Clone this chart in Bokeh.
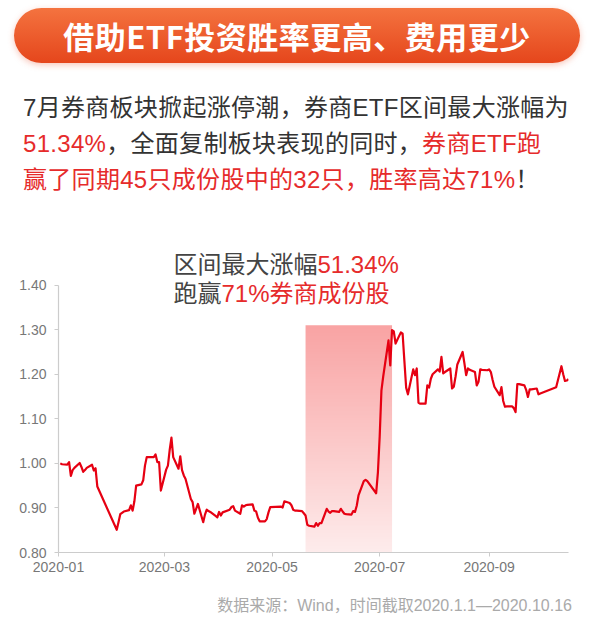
from datetime import datetime
import numpy as np
from bokeh.plotting import figure
from bokeh.models import (Range1d, FixedTicker, NumeralTickFormatter,
                          DatetimeTickFormatter, Label, Div, ColumnDataSource)
from bokeh.layouts import column
from bokeh.embed import file_html
from bokeh.resources import INLINE

# ---------------- data ----------------
dates = [
    "2020-01-02", "2020-01-03", "2020-01-06", "2020-01-07", "2020-01-08", "2020-01-09", "2020-01-10",
    "2020-01-13", "2020-01-14", "2020-01-15", "2020-01-16", "2020-01-17", "2020-01-20", "2020-01-21",
    "2020-01-22", "2020-01-23",
    "2020-02-03", "2020-02-04", "2020-02-05", "2020-02-06", "2020-02-07", "2020-02-10", "2020-02-11",
    "2020-02-12", "2020-02-13", "2020-02-14", "2020-02-17", "2020-02-18", "2020-02-19", "2020-02-20",
    "2020-02-21", "2020-02-24", "2020-02-25", "2020-02-26", "2020-02-27", "2020-02-28",
    "2020-03-02", "2020-03-03", "2020-03-04", "2020-03-05", "2020-03-06", "2020-03-09", "2020-03-10",
    "2020-03-11", "2020-03-12", "2020-03-13", "2020-03-16", "2020-03-17", "2020-03-18", "2020-03-19",
    "2020-03-20", "2020-03-23", "2020-03-24", "2020-03-25", "2020-03-26", "2020-03-27", "2020-03-30",
    "2020-03-31",
    "2020-04-01", "2020-04-02", "2020-04-03", "2020-04-07", "2020-04-08", "2020-04-09", "2020-04-10",
    "2020-04-13", "2020-04-14", "2020-04-15", "2020-04-16", "2020-04-17", "2020-04-20", "2020-04-21",
    "2020-04-22", "2020-04-23", "2020-04-24", "2020-04-27", "2020-04-28", "2020-04-29", "2020-04-30",
    "2020-05-06", "2020-05-07", "2020-05-08", "2020-05-11", "2020-05-12", "2020-05-13", "2020-05-14",
    "2020-05-15", "2020-05-18", "2020-05-19", "2020-05-20", "2020-05-21", "2020-05-22", "2020-05-25",
    "2020-05-26", "2020-05-27", "2020-05-28", "2020-05-29",
    "2020-06-01", "2020-06-02", "2020-06-03", "2020-06-04", "2020-06-05", "2020-06-08", "2020-06-09",
    "2020-06-10", "2020-06-11", "2020-06-12", "2020-06-15", "2020-06-16", "2020-06-17", "2020-06-18",
    "2020-06-19", "2020-06-22", "2020-06-23", "2020-06-24", "2020-06-29", "2020-06-30",
    "2020-07-01", "2020-07-02", "2020-07-03", "2020-07-06", "2020-07-07", "2020-07-08", "2020-07-09",
    "2020-07-10", "2020-07-13", "2020-07-14", "2020-07-15", "2020-07-16", "2020-07-17", "2020-07-20",
    "2020-07-21", "2020-07-22", "2020-07-23", "2020-07-24", "2020-07-27", "2020-07-28", "2020-07-29",
    "2020-07-30", "2020-07-31",
    "2020-08-03", "2020-08-04", "2020-08-05", "2020-08-06", "2020-08-07", "2020-08-10", "2020-08-11",
    "2020-08-12", "2020-08-13", "2020-08-14", "2020-08-17", "2020-08-18", "2020-08-19", "2020-08-20",
    "2020-08-21", "2020-08-24", "2020-08-25", "2020-08-26", "2020-08-27", "2020-08-28", "2020-08-31",
    "2020-09-01", "2020-09-02", "2020-09-03", "2020-09-04", "2020-09-07", "2020-09-08", "2020-09-09",
    "2020-09-10", "2020-09-11", "2020-09-14", "2020-09-15", "2020-09-16", "2020-09-17", "2020-09-18",
    "2020-09-21", "2020-09-22", "2020-09-23", "2020-09-24", "2020-09-25", "2020-09-28", "2020-09-29",
    "2020-09-30",
    "2020-10-09", "2020-10-12", "2020-10-13", "2020-10-14", "2020-10-15", "2020-10-16",
]
nav = [
    1.000, 0.998, 0.997, 1.003, 0.972, 0.985, 0.990,
    1.001, 0.992, 0.981, 0.985, 0.990, 0.997, 0.984,
    0.989, 0.948,
    0.851, 0.868, 0.886, 0.889, 0.892, 0.895, 0.906,
    0.894, 0.915, 0.950, 0.953, 0.962, 0.995, 1.014,
    1.014, 1.014, 1.020, 1.003, 1.003, 0.939,
    0.986, 0.995, 1.030, 1.058, 1.014, 0.988, 1.016,
    0.985, 0.973, 0.965, 0.920, 0.913, 0.887, 0.898,
    0.909, 0.868, 0.885, 0.896, 0.893, 0.891, 0.882,
    0.879,
    0.891, 0.883, 0.890, 0.896, 0.902, 0.904, 0.894,
    0.887, 0.906, 0.903, 0.906, 0.907, 0.908, 0.894,
    0.892, 0.878, 0.870, 0.870, 0.875, 0.890, 0.902,
    0.903, 0.901, 0.915, 0.911, 0.906, 0.896, 0.894,
    0.894, 0.893, 0.888, 0.883, 0.862, 0.860, 0.858,
    0.866, 0.860, 0.866, 0.866,
    0.898, 0.892, 0.889, 0.893, 0.893, 0.891, 0.898,
    0.892, 0.887, 0.886, 0.885, 0.893, 0.891, 0.905,
    0.928, 0.960, 0.963, 0.960, 0.933, 0.980,
    1.060, 1.164, 1.195, 1.276, 1.220, 1.299, 1.296,
    1.269, 1.294, 1.291, 1.230, 1.170, 1.155, 1.211,
    1.198, 1.213, 1.136, 1.134, 1.134, 1.175, 1.170,
    1.190, 1.200,
    1.211, 1.206, 1.239, 1.202, 1.205, 1.213, 1.168,
    1.172, 1.195, 1.222, 1.250, 1.225, 1.198, 1.213,
    1.210, 1.205, 1.175, 1.183, 1.211, 1.210, 1.209,
    1.211, 1.205, 1.187, 1.172, 1.153, 1.171, 1.140,
    1.127, 1.128, 1.128, 1.124, 1.115, 1.178, 1.178,
    1.175, 1.165, 1.149, 1.166, 1.166, 1.168, 1.155,
    1.157,
    1.171, 1.218, 1.200, 1.185, 1.186, 1.189,
]
y_ticks = [0.80, 0.90, 1.00, 1.10, 1.20, 1.30, 1.40]
x_tick_dates = ["2020-01-01", "2020-03-01", "2020-05-01", "2020-07-01", "2020-09-01"]
x_start, x_end = "2020-01-01", "2020-10-16"
y_min, y_axis_top, y_view_top = 0.80, 1.40, 1.48
shade_start, shade_end, shade_top = "2020-05-20", "2020-07-08", 1.31

title_text = "借助ETF投资胜率更高、费用更少"
note_line1 = ("区间最大涨幅", "51.34%")
note_line2 = ("跑赢", "71%券商成份股")
source_text = "数据来源：Wind，时间截取2020.1.1—2020.10.16"

RED = "#e62b2b"
DARK = "#333333"


def ms(s):
    return (datetime.strptime(s, "%Y-%m-%d") - datetime(1970, 1, 1)).total_seconds() * 1000.0


dt = [datetime.strptime(d, "%Y-%m-%d") for d in dates]
src = ColumnDataSource(dict(date=dt, nav=nav))

# ---------------- header (banner + paragraph) ----------------
FONT = "'Liberation Sans','Noto Sans CJK SC',sans-serif"
LINE = "display:block;height:36px;line-height:36px;white-space:nowrap;"
header_html = f"""
<div style="position:relative;width:575px;height:210px;font-family:{FONT};">
  <div style="position:absolute;left:6px;top:0px;width:566px;height:55px;border-radius:28px;
      background:linear-gradient(to bottom,#f4733f,#e5461c);
      box-shadow:0 2px 6px rgba(235,95,60,0.35);
      color:#ffffff;font-size:31px;font-weight:bold;text-align:center;line-height:55px;
      font-family:'Noto Sans CJK SC',sans-serif;letter-spacing:0.5px;">{title_text}</div>
  <div style="position:absolute;left:15px;top:82px;width:560px;font-size:24px;
      color:{DARK};letter-spacing:0.3px;">
    <div style="{LINE}">7月券商板块掀起涨停潮，券商ETF区间最大涨幅为</div>
    <div style="{LINE}"><span style="color:{RED};">51.34%</span>，全面复制板块表现的同时，<span style="color:{RED};">券商ETF跑</span></div>
    <div style="{LINE}"><span style="color:{RED};">赢了同期45只成份股中的32只，胜率高达71%</span>！</div>
  </div>
</div>
"""
header = Div(text=header_html, width=575, height=210, margin=0)

# ---------------- chart ----------------
FRAME_H = 303
p = figure(width=575, height=372, x_axis_type="datetime",
           x_range=Range1d(datetime.strptime(x_start, "%Y-%m-%d"), datetime.strptime(x_end, "%Y-%m-%d")),
           y_range=Range1d(y_min, y_view_top),
           output_backend="svg", toolbar_location=None,
           min_border_left=50, min_border_right=15, min_border_top=372 - 38 - FRAME_H,
           min_border_bottom=38)
p.outline_line_color = None
p.xgrid.visible = False
p.ygrid.visible = False
p.background_fill_color = "white"
p.border_fill_color = "white"

# gradient shading (styling computed, not data)
n = 128
img = np.empty((n, 1), dtype=np.uint32)
view = img.view(dtype=np.uint8).reshape((n, 1, 4))
t = np.linspace(0.0, 1.0, n)  # 0 bottom -> 1 top
top_c = np.array([249, 164, 164])
bot_c = np.array([254, 236, 236])
for i in range(3):
    view[:, 0, i] = (bot_c[i] + (top_c[i] - bot_c[i]) * t).astype(np.uint8)
view[:, 0, 3] = 255
p.image_rgba(image=[img], x=ms(shade_start), y=y_min,
             dw=ms(shade_end) - ms(shade_start), dh=shade_top - y_min)

p.line("date", "nav", source=src, line_color="#e60012", line_width=2.2, line_join="round")

# axes
for ax in (p.xaxis[0], p.yaxis[0]):
    ax.axis_line_color = "#cccccc"
    ax.axis_line_width = 1.2
    ax.major_tick_line_color = "#cccccc"
    ax.major_tick_in = 0
    ax.major_tick_out = 4
    ax.minor_tick_line_color = None
    ax.major_label_text_color = "#777777"
    ax.major_label_text_font = "Liberation Sans"
    ax.major_label_text_font_size = "14px"

p.yaxis.ticker = FixedTicker(ticks=y_ticks)
p.yaxis.formatter = NumeralTickFormatter(format="0.00")
p.yaxis.major_label_standoff = 8
p.yaxis.bounds = (y_min, y_axis_top)

p.xaxis.ticker = FixedTicker(ticks=[ms(d) for d in x_tick_dates])
p.xaxis.formatter = DatetimeTickFormatter(years="%Y-%m", months="%Y-%m", days="%Y-%m",
                                          hours="%Y-%m", minutes="%Y-%m")
p.xaxis.major_label_standoff = 5

# annotation text (two colours per line)
ann_font = "Liberation Sans, Noto Sans CJK SC"
fs = 24
px_per_unit = FRAME_H / (y_view_top - y_min)
y1 = y_axis_top + 21 / px_per_unit
y2 = y_axis_top - 8 / px_per_unit
x0 = ms(x_start)
for (a, b), yy in ((note_line1, y1), (note_line2, y2)):
    p.add_layout(Label(x=x0, y=yy, x_offset=115, text=a, text_font=ann_font,
                       text_font_size=f"{fs}px", text_color="#444444", text_baseline="middle"))
    p.add_layout(Label(x=x0, y=yy, x_offset=115 + fs * len(a), text=b, text_font=ann_font,
                       text_font_size=f"{fs}px", text_color=RED, text_baseline="middle"))

# ---------------- footer ----------------
footer_html = f"""
<div style="position:relative;width:575px;height:28px;font-family:{FONT};">
  <div style="position:absolute;right:11px;top:6px;font-size:16px;line-height:20px;color:#aaaaaa;
      white-space:nowrap;">{source_text}</div>
</div>
"""
footer = Div(text=footer_html, width=575, height=28, margin=0)

layout = column(header, p, footer, spacing=0, margin=(8, 8, 8, 8))
open("out.html", "w").write(file_html(layout, INLINE))
